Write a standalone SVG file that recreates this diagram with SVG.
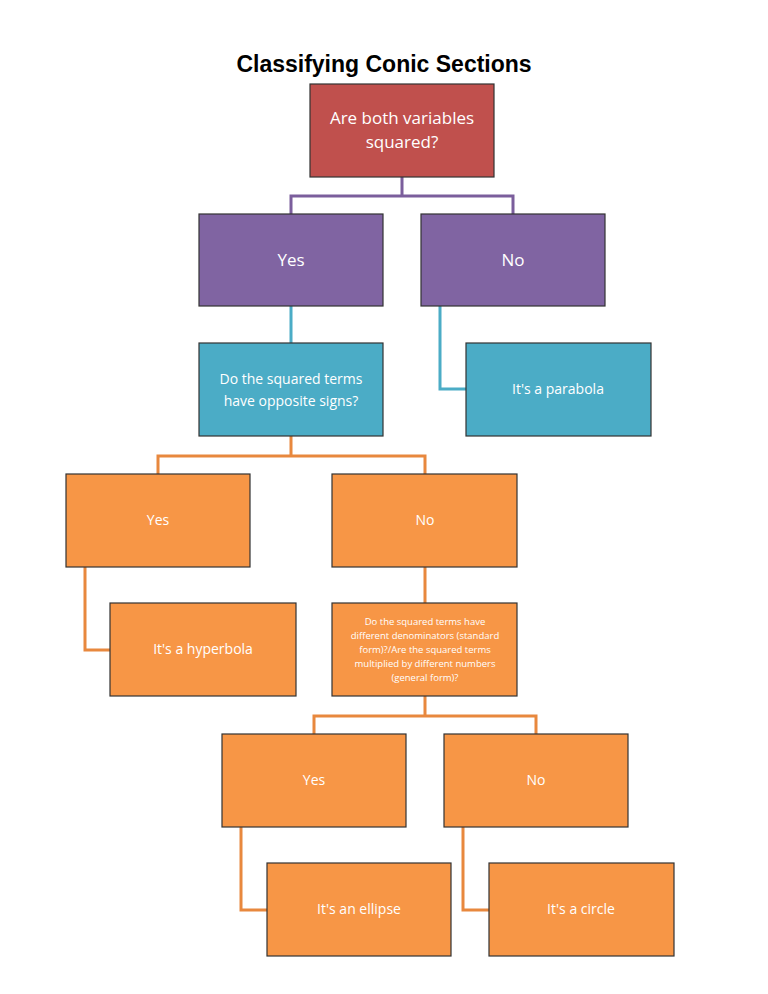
<svg xmlns="http://www.w3.org/2000/svg" width="768" height="994" viewBox="0 0 768 994">
<style>
text{font-family:"Open Sans","Liberation Sans",sans-serif;fill:#fff;text-anchor:middle}
.b{stroke:#333;stroke-width:1.2}
.r{fill:#C0504D}.p{fill:#8064A2}.c{fill:#4BACC6}.o{fill:#F79646}
.cn{fill:none;stroke-width:3}
.t{font-size:17px}.s{font-size:14px}.x{font-size:9.5px}
</style>
<rect width="768" height="994" fill="#fff"/>
<text x="384" y="72" style="fill:#000;font-family:'Liberation Sans',sans-serif;font-weight:bold;font-size:23px">Classifying Conic Sections</text>
<g id="connectors">
<path class="cn" stroke="#7B5E9C" d="M402,177V196H291V214M402,196H513V214"/>
<path class="cn" stroke="#4BACC6" d="M291,306V343M440,306V389H466"/>
<path class="cn" stroke="#E8883E" d="M291,436V456H158V474M291,456H425V474M85,567V650H110M425,567V603M425,696V716H314V734M425,716H536V734M241,827V910H267M463,827V910H489"/>
</g>
<g id="n1"><rect class="b r" x="310" y="84" width="184" height="93"/><text class="t" x="402" y="124">Are both variables</text><text class="t" x="402" y="148">squared?</text></g>
<g id="n2"><rect class="b p" x="199" y="214" width="184" height="92"/><text class="t" x="291" y="266">Yes</text></g>
<g id="n3"><rect class="b p" x="421" y="214" width="184" height="92"/><text class="t" x="513" y="266">No</text></g>
<g id="n4"><rect class="b c" x="199" y="343" width="184" height="93"/><text class="s" x="291" y="384">Do the squared terms</text><text class="s" x="291" y="406">have opposite signs?</text></g>
<g id="n5"><rect class="b c" x="466" y="343" width="185" height="93"/><text class="s" x="558" y="394">It's a parabola</text></g>
<g id="n6"><rect class="b o" x="66" y="474" width="184" height="93"/><text class="s" x="158" y="525">Yes</text></g>
<g id="n7"><rect class="b o" x="332" y="474" width="185" height="93"/><text class="s" x="425" y="525">No</text></g>
<g id="n8"><rect class="b o" x="110" y="603" width="186" height="93"/><text class="s" x="203" y="654">It's a hyperbola</text></g>
<g id="n9"><rect class="b o" x="332" y="603" width="185" height="93"/>
<text class="x" x="425" y="625">Do the squared terms have</text>
<text class="x" x="425" y="639">different denominators (standard</text>
<text class="x" x="425" y="653">form)?/Are the squared terms</text>
<text class="x" x="425" y="667">multiplied by different numbers</text>
<text class="x" x="425" y="681">(general form)?</text></g>
<g id="n10"><rect class="b o" x="222" y="734" width="184" height="93"/><text class="s" x="314" y="785">Yes</text></g>
<g id="n11"><rect class="b o" x="444" y="734" width="184" height="93"/><text class="s" x="536" y="785">No</text></g>
<g id="n12"><rect class="b o" x="267" y="863" width="184" height="93"/><text class="s" x="359" y="914">It's an ellipse</text></g>
<g id="n13"><rect class="b o" x="489" y="863" width="185" height="93"/><text class="s" x="581" y="914">It's a circle</text></g>
</svg>
